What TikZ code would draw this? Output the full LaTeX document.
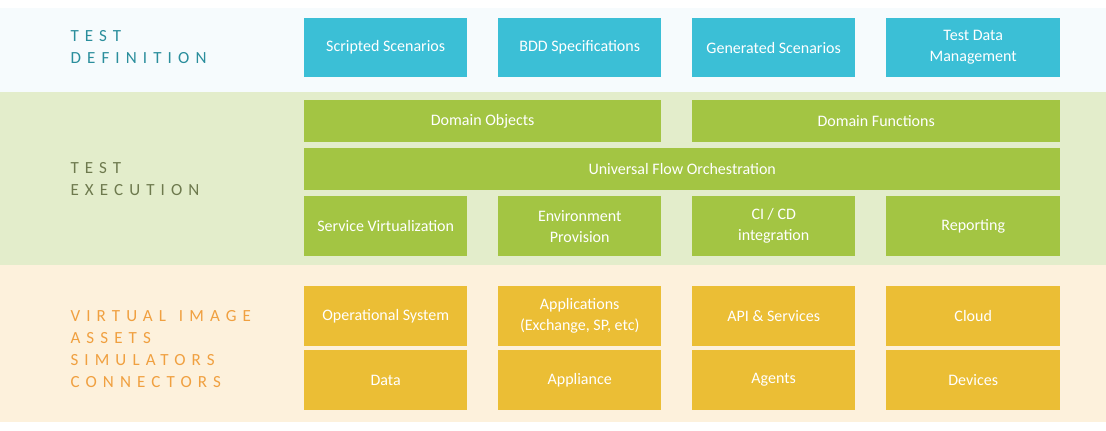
\documentclass[tikz,border=0pt]{standalone}
\usepackage{fontspec}
\setmainfont{Carlito}
\newfontfamily\spacedfont[LetterSpace=36,WordSpace=1.3]{Carlito}
\definecolor{defblue}{HTML}{3BBFD6}
\definecolor{exgreen}{HTML}{A3C543}
\definecolor{assetyel}{HTML}{EBBE35}
\definecolor{defbg}{HTML}{F6FBFD}
\definecolor{exbg}{HTML}{E3EDCB}
\definecolor{assetbg}{HTML}{FDF1DC}
\definecolor{deftxt}{HTML}{2A8E9C}
\definecolor{extxt}{HTML}{6E7A4E}
\definecolor{assettxt}{HTML}{F0A040}
\begin{document}
\begin{tikzpicture}[x=1pt,y=-1pt,
  box/.style={draw=none,text=white,font=\fontsize{16}{21}\selectfont,align=center,inner sep=0pt,anchor=north west},
  defbox/.style={box,fill=defblue,minimum width=163,minimum height=59},
  exbox/.style={box,fill=exgreen,minimum width=163,minimum height=60},
  widebox/.style={box,fill=exgreen,minimum height=42},
  assetbox/.style={box,fill=assetyel,minimum width=163,minimum height=60},
  layer label/.style={anchor=west,align=left,font=\spacedfont\fontsize{17}{22}\selectfont}]
  \useasboundingbox (0,0) rectangle (1106,431);
  \fill[white] (0,0) rectangle (1106,431);
  % layers
  \fill[defbg] (0,8) rectangle (1106,92);
  \fill[exbg] (0,92) rectangle (1106,265);
  \fill[assetbg] (0,265) rectangle (1106,422);
  \node[layer label,text=deftxt] (deflabel) at (67,47) {TEST\\DEFINITION};
  \node[layer label,text=extxt] (exlabel) at (67,179) {TEST\\EXECUTION};
  \node[layer label,text=assettxt] (assetlabel) at (67,349) {VIRTUAL IMAGE\\ASSETS\\SIMULATORS\\CONNECTORS};
  % test definition
  \node[defbox] (scripted) at (304,18) {Scripted Scenarios};
  \node[defbox] (bdd) at (498,18) {BDD Specifications};
  \node[defbox] (generated) at (692,18) {Generated Scenarios};
  \node[defbox,minimum width=174] (testdata) at (886,18) {Test Data\\Management};
  % test execution
  \node[widebox,minimum width=357] (objects) at (304,100) {Domain Objects};
  \node[widebox,minimum width=368] (functions) at (692,100) {Domain Functions};
  \node[widebox,minimum width=756] (flow) at (304,148) {Universal Flow Orchestration};
  \node[exbox] (virtual) at (304,196) {Service Virtualization};
  \node[exbox] (provision) at (498,196) {Environment\\Provision};
  \node[exbox] (cicd) at (692,196) {CI / CD\\integration};
  \node[exbox,minimum width=174] (reporting) at (886,196) {Reporting};
  % assets
  \node[assetbox] (os) at (304,286) {Operational System};
  \node[assetbox] (apps) at (498,286) {Applications\\(Exchange, SP, etc)};
  \node[assetbox] (api) at (692,286) {API \& Services};
  \node[assetbox,minimum width=174] (cloud) at (886,286) {Cloud};
  \node[assetbox] (data) at (304,350) {Data};
  \node[assetbox] (appliance) at (498,350) {Appliance};
  \node[assetbox] (agents) at (692,350) {Agents};
  \node[assetbox,minimum width=174] (devices) at (886,350) {Devices};
\end{tikzpicture}
\end{document}
